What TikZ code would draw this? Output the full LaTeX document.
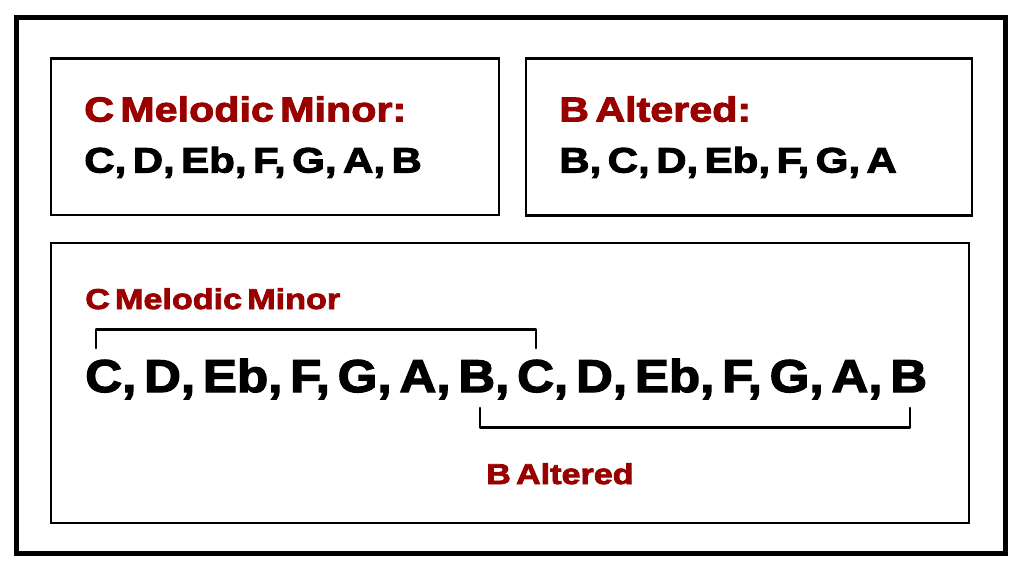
\documentclass[tikz,border=0pt]{standalone}
\usepackage{xcolor}
\usepackage{fontspec}
\usepackage{tikz}
\usetikzlibrary{positioning}

\newfontfamily\heavy{Liberation Sans}[BoldFeatures={FakeBold=2.8,FakeStretch=1.19}, WordSpace=0.55]
\newfontfamily\heavybig{Liberation Sans}[BoldFeatures={FakeBold=2.8,FakeStretch=1.11}, WordSpace=0.55]
\definecolor{scalered}{HTML}{990000}

\begin{document}
\begin{tikzpicture}[x=0.75pt, y=-0.75pt]

    % Define styles
    \tikzset{
        frame/.style = {draw=black, line width=3.75pt},
        box/.style = {draw=black, line width=2.2pt},
        heading/.style = {anchor=base west, inner sep=0pt, text=scalered, font=\heavy\bfseries\fontsize{26}{30}\selectfont},
        notes/.style = {anchor=base west, inner sep=0pt, text=black, font=\heavy\bfseries\fontsize{26.5}{30}\selectfont},
        tag/.style = {anchor=base west, inner sep=0pt, text=scalered, font=\heavy\bfseries\fontsize{21.5}{24}\selectfont},
        bigline/.style = {anchor=base west, inner sep=0pt, text=black, font=\heavybig\bfseries\fontsize{34.5}{40}\selectfont},
        bracket/.style = {draw=black, line width=1.9pt, line cap=round, line join=round}
    }

    \useasboundingbox (0,0) rectangle (1024,572);

    % Boxes
    \draw[frame] (16,17.5) rectangle (1005.5,553.5);
    \draw[box] (51,58.5) rectangle (499,215);
    \draw[box] (526,58.5) rectangle (972,215.5);
    \draw[box] (51,243) rectangle (969,523);

    % Nodes
    \node (cmmhead) [heading] at (84,121.5) {C Melodic Minor:};
    \node (cmmnotes) [notes] at (84,172.5) {C, D, Eb, F, G, A, B};
    \node (balthead) [heading] at (559,121.5) {B Altered:};
    \node (baltnotes) [notes] at (559,172.5) {B, C, D, Eb, F, G, A};

    \node (cmmtag) [tag] at (85,309) {C Melodic Minor};
    \node (scale) [bigline] at (85,392) {C, D, Eb, F, G, A, B, C, D, Eb, F, G, A, B};
    \node (balttag) [tag] at (486,484) {B Altered};

    % Brackets
    \coordinate (cmmleft) at (96,348);
    \coordinate (cmmright) at (536,348);
    \coordinate (baltleft) at (480,408);
    \coordinate (baltright) at (910,408);

    \draw[bracket] (cmmleft) -- ++(0,-18.5) -| (cmmright);
    \draw[bracket] (baltleft) -- ++(0,19.5) -| (baltright);

\end{tikzpicture}
\end{document}
